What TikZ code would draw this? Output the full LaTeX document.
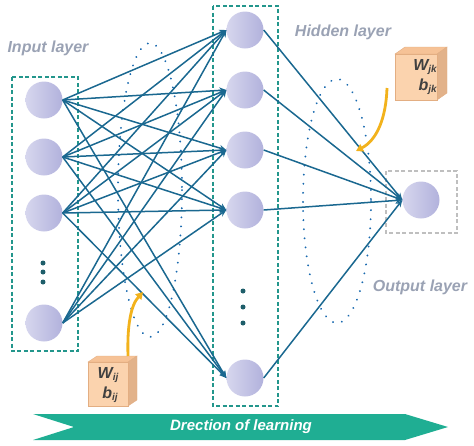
\documentclass[tikz,border=0pt]{standalone}
\usepackage{fontspec}
\setmainfont{Liberation Sans}
\usetikzlibrary{arrows.meta}
\definecolor{lineblue}{HTML}{1A6890}
\definecolor{boxteal}{HTML}{23968C}
\definecolor{lblgray}{HTML}{9AA2B4}
\definecolor{arrowteal}{HTML}{1FAE93}
\definecolor{cubefront}{HTML}{FBD3AE}
\definecolor{cubeside}{HTML}{F6C296}
\definecolor{cubeedge}{HTML}{E3AE82}
\definecolor{gold}{HTML}{F2B21C}
\definecolor{dotdark}{HTML}{1E5E6A}
\definecolor{nleft}{HTML}{D6D6EE}
\definecolor{nright}{HTML}{B2B2DC}
\begin{document}
\begin{tikzpicture}[x=1pt,y=-1pt,
  neuron/.style={circle,minimum size=37pt,inner sep=0pt,left color=nleft,right color=nright,draw=none},
  lyr/.style={font=\bfseries\itshape\fontsize{16}{18}\selectfont,text=lblgray},
  conn/.style={draw=lineblue,line width=1.5pt,-{Stealth[length=7pt,width=6pt]}},
  dbox/.style={draw=boxteal,line width=1.4pt,dash pattern=on 4pt off 2.5pt},
  gbox/.style={draw=gray!50,line width=1.4pt,dash pattern=on 4pt off 2.5pt},
  dell/.style={draw=boxteal!70!blue,line width=2pt,line cap=round,dash pattern=on 0.1pt off 9pt},
  goldarrow/.style={draw=gold,line width=2.8pt,-{Triangle[length=7pt,width=8pt]}},
  cubetxt/.style={font=\bfseries\itshape\fontsize{16}{18}\selectfont,text=black!75},
  vdot/.style={circle,fill=dotdark,inner sep=0pt,minimum size=5pt}
]
\useasboundingbox (0,0) rectangle (474,445);
% dashed boxes
\draw[dbox] (12,77) rectangle (78,351);
\draw[dbox] (213,6) rectangle (278,406);
\draw[gbox] (386,171) rectangle (457,233);
% dotted ellipses
\draw[dell] (150,190) ellipse [x radius=32, y radius=147];
\draw[dell] (337,201) ellipse [x radius=34, y radius=122];
% neurons
\node[neuron] (i1) at (44,100) {};
\node[neuron] (i2) at (44,157) {};
\node[neuron] (i3) at (44,213) {};
\node[neuron] (i4) at (44,323) {};
\node[neuron] (h1) at (245,30) {};
\node[neuron] (h2) at (245,90) {};
\node[neuron] (h3) at (245,150) {};
\node[neuron] (h4) at (245,210) {};
\node[neuron] (h5) at (245,378) {};
\node[neuron] (o) at (421,200) {};
% vertical dots
\node[vdot] (d1) at (43,263) {};
\node[vdot] (d2) at (43,272) {};
\node[vdot] (d3) at (43,282) {};
\node[vdot] (e1) at (243,291) {};
\node[vdot] (e2) at (243,307) {};
\node[vdot] (e3) at (243,323) {};
% connections input -> hidden
\foreach \i in {i1,i2,i3}{
  \foreach \h in {h1,h2,h3,h4,h5}{
    \draw[conn] (\i.east) -- (\h.west);
  }
}
\foreach \h in {h1,h2,h3,h4}{
  \draw[conn] (i4.east) -- (\h.west);
}
% hidden -> output
\foreach \h in {h1,h2,h3,h4,h5}{
  \draw[conn] (\h.east) -- (o.west);
}
% labels
\node[lyr] (lin) at (48,48) {Input layer};
\node[lyr] (lhid) at (343,32) {Hidden layer};
\node[lyr] (lout) at (420,287) {Output layer};
% cube ij
\fill[cubeside,draw=cubeedge,line width=0.4pt] (88,362) -- (97,356) -- (137,356) -- (128,362) -- cycle;
\fill[cubeside!92!black,draw=cubeedge,line width=0.4pt] (128,362) -- (137,356) -- (137,400) -- (128,406) -- cycle;
\fill[cubefront,draw=cubeedge,line width=0.4pt] (88,362) rectangle (128,406);
\node[cubetxt] (wij) at (108,375) {W\raisebox{-2pt}{\fontsize{10}{10}\selectfont ij}};
\node[cubetxt] (bij) at (110,395) {b\raisebox{-2pt}{\fontsize{10}{10}\selectfont ij}};
% cube jk
\fill[cubeside,draw=cubeedge,line width=0.4pt] (395,54) -- (405,47) -- (447,47) -- (437,54) -- cycle;
\fill[cubeside!92!black,draw=cubeedge,line width=0.4pt] (437,54) -- (447,47) -- (447,93) -- (437,100) -- cycle;
\fill[cubefront,draw=cubeedge,line width=0.4pt] (395,54) rectangle (437,100);
\node[cubetxt,anchor=east,inner sep=1pt] (wjk) at (438,67) {W\raisebox{-2pt}{\fontsize{10}{10}\selectfont jk}};
\node[cubetxt,anchor=east,inner sep=1pt] (bjk) at (438,87) {b\raisebox{-2pt}{\fontsize{10}{10}\selectfont jk}};
% gold arrows
\coordinate (gij) at (143,292);
\coordinate (gjk) at (356,151);
\draw[goldarrow] (128,356) .. controls (127,325) and (131,305) .. (gij);
\draw[goldarrow] (387,88) .. controls (386,118) and (377,140) .. (gjk);
% big arrow
\fill[arrowteal] (33,414) -- (405,414) -- (448,427) -- (405,440) -- (33,440) -- (74,427) -- cycle;
\node[font=\bfseries\itshape\fontsize{15}{17}\selectfont,text=white] (dir) at (241,427) {Drection of learning};
\end{tikzpicture}
\end{document}
